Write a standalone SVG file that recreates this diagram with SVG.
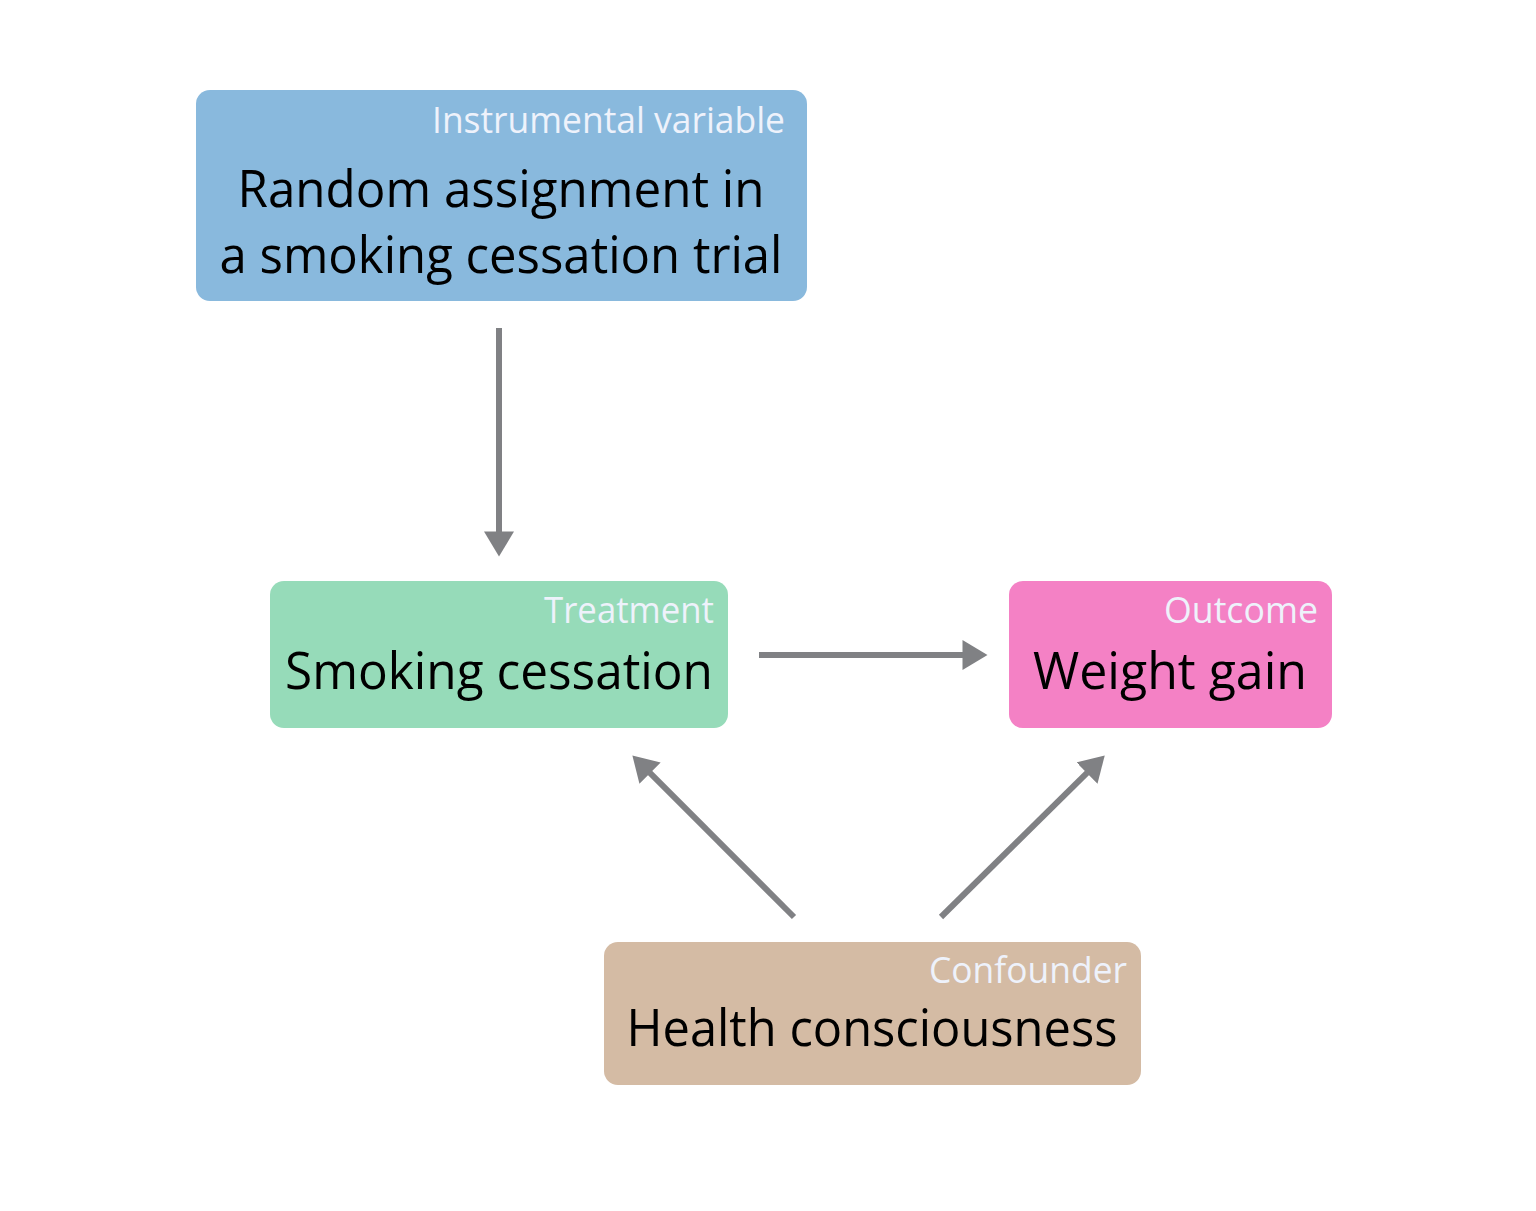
<svg xmlns="http://www.w3.org/2000/svg" width="1536" height="1211" viewBox="0 0 1536 1211">
<style>
.lbl{font-family:"Open Sans","Noto Sans",sans-serif;font-size:36px;fill:#eef2fb;text-anchor:end}
.main{font-family:"Open Sans","Noto Sans",sans-serif;font-size:52px;fill:#000;text-anchor:middle}
.conn{stroke:#808184;stroke-width:6;fill:none}
</style>
<defs>
<marker id="ah" viewBox="0 0 25 30" refX="0.5" refY="15" markerWidth="4.1667" markerHeight="5" markerUnits="strokeWidth" orient="auto">
<path d="M0,0 L25,15 L0,30 z" fill="#808184"/>
</marker>
</defs>
<rect width="1536" height="1211" fill="#fff"/>
<g id="instrument">
<rect x="196" y="90" width="611" height="211" rx="14" fill="#89b9dd"/>
<text class="lbl" x="785" y="133" textLength="353" lengthAdjust="spacingAndGlyphs">Instrumental variable</text>
<text class="main" x="501" y="207" textLength="527" lengthAdjust="spacingAndGlyphs">Random assignment in</text>
<text class="main" x="501" y="273" textLength="563" lengthAdjust="spacingAndGlyphs">a smoking cessation trial</text>
</g>
<g id="treatment">
<rect x="270" y="581" width="458" height="147" rx="14" fill="#96dbb9"/>
<text class="lbl" x="714" y="623" textLength="170" lengthAdjust="spacingAndGlyphs">Treatment</text>
<text class="main" x="499" y="689" textLength="428" lengthAdjust="spacingAndGlyphs">Smoking cessation</text>
</g>
<g id="outcome">
<rect x="1009" y="581" width="323" height="147" rx="14" fill="#f481c5"/>
<text class="lbl" x="1318" y="623" textLength="154" lengthAdjust="spacingAndGlyphs">Outcome</text>
<text class="main" x="1170" y="689" textLength="274" lengthAdjust="spacingAndGlyphs">Weight gain</text>
</g>
<g id="confounder">
<rect x="604" y="942" width="537" height="143" rx="14" fill="#d4bba4"/>
<text class="lbl" x="1127" y="983" textLength="198" lengthAdjust="spacingAndGlyphs">Confounder</text>
<text class="main" x="872" y="1046" textLength="491" lengthAdjust="spacingAndGlyphs">Health consciousness</text>
</g>
<g id="connectors">
<line class="conn" x1="499" y1="328" x2="499" y2="532" marker-end="url(#ah)"/>
<line class="conn" x1="759" y1="655" x2="963" y2="655" marker-end="url(#ah)"/>
<line class="conn" x1="794" y1="917" x2="649.7" y2="772.7" marker-end="url(#ah)"/>
<line class="conn" x1="941" y1="917" x2="1087.3" y2="772.7" marker-end="url(#ah)"/>
</g>
</svg>
